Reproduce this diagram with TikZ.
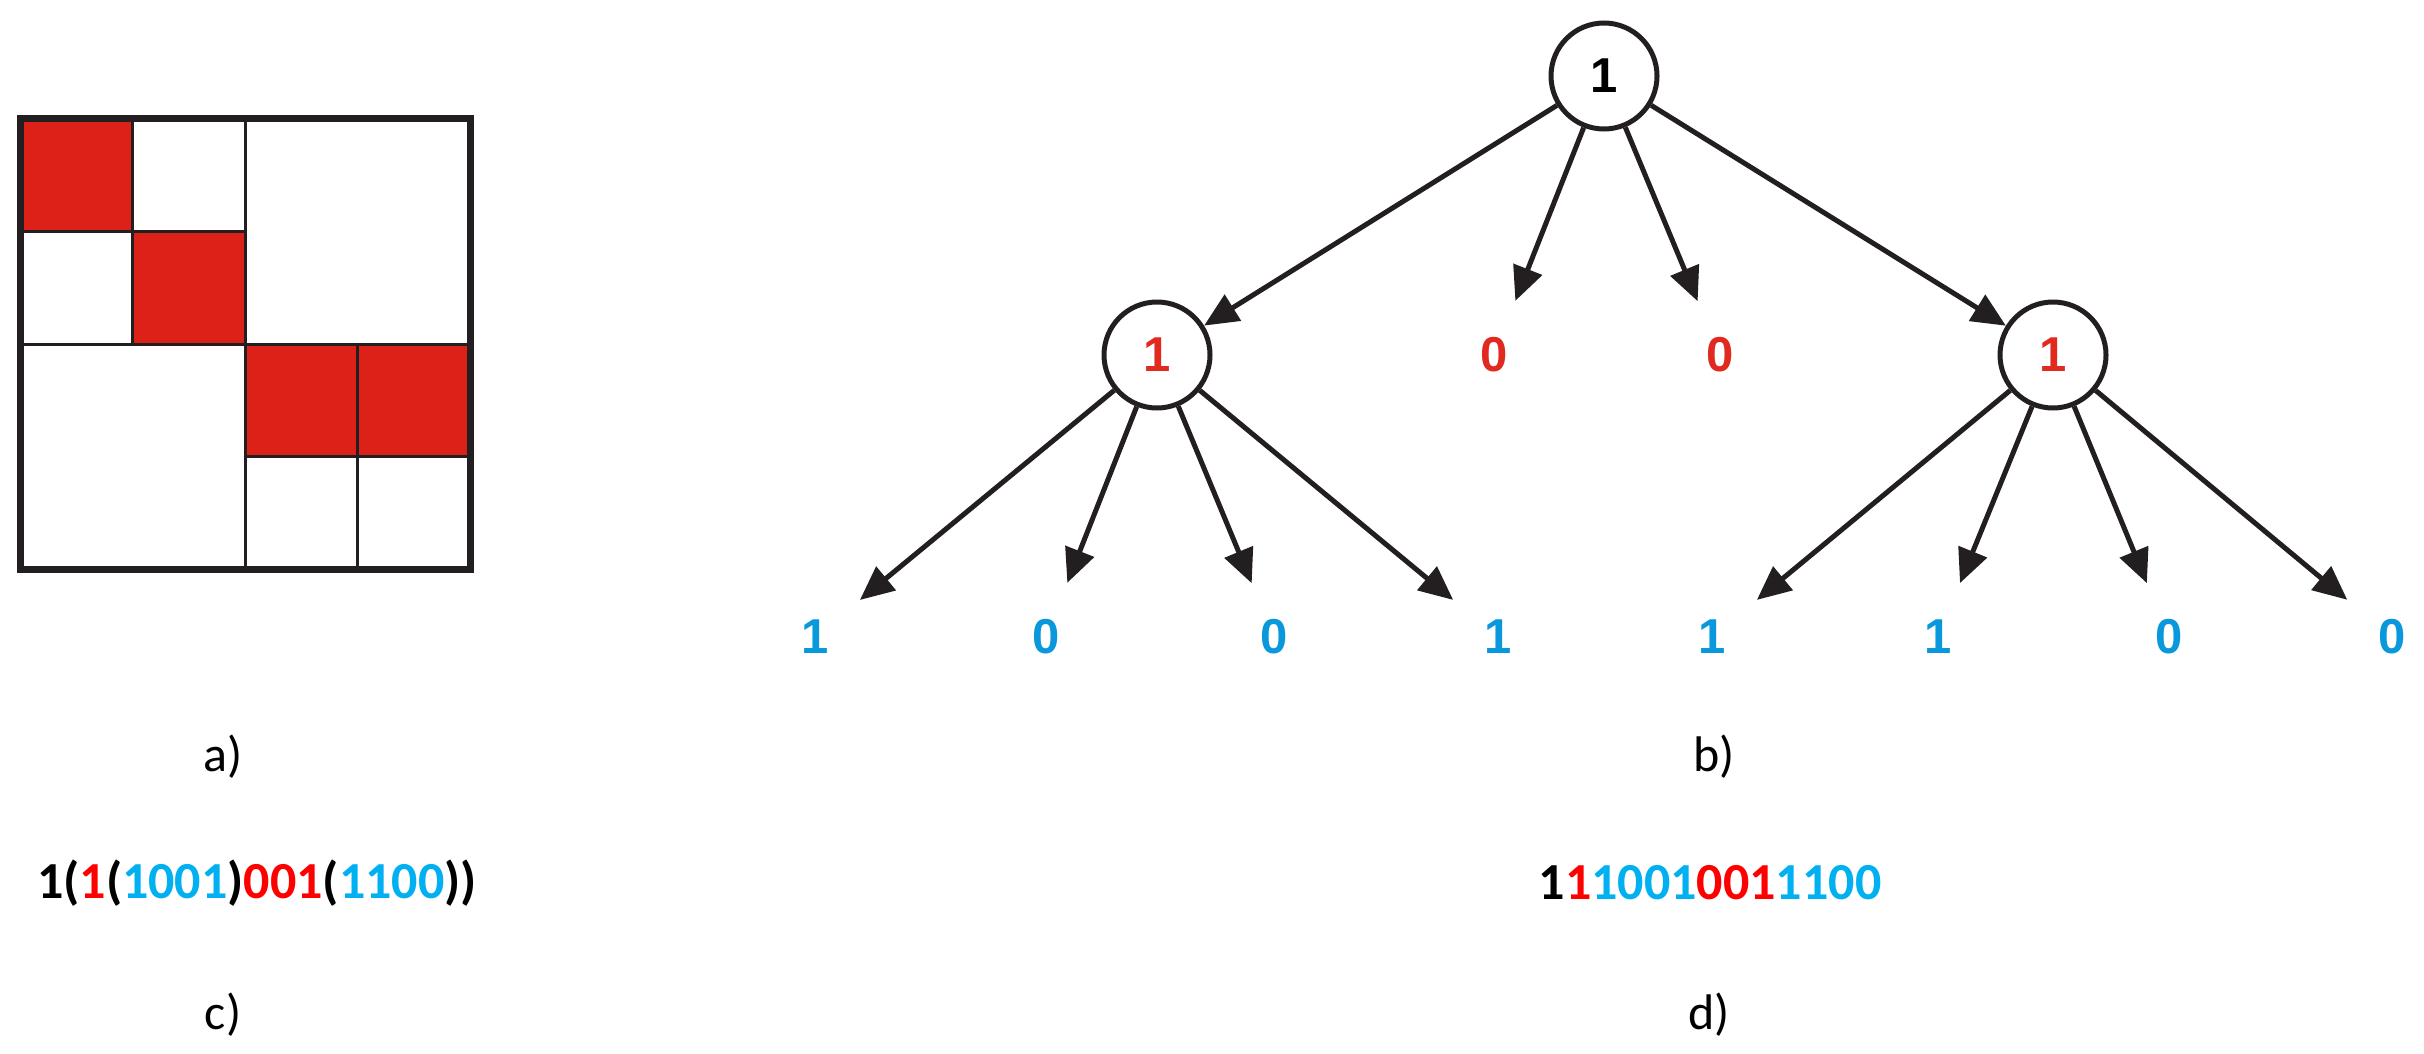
\documentclass[tikz,border=0pt]{standalone}
\usepackage{fontspec}
\setmainfont{Carlito}
\newfontfamily\arialf{Liberation Sans}
\usetikzlibrary{arrows.meta}
\definecolor{mred}{HTML}{DC2118}
\definecolor{tred}{HTML}{E02A20}
\definecolor{tblue}{HTML}{0A98DC}
\definecolor{sred}{HTML}{FF0000}
\definecolor{sblue}{HTML}{00B0F0}
\definecolor{ink}{HTML}{231F20}
\tikzset{
  inode/.style={circle,draw=ink,line width=5pt,minimum size=106pt,inner sep=0pt,font=\arialf\bfseries\fontsize{49}{50}\selectfont},
  lnode/.style={circle,minimum size=116pt,inner sep=0pt,font=\arialf\bfseries\fontsize{49}{50}\selectfont},
  arr/.style={draw=ink,line width=5pt,-{Triangle[length=34pt,width=30pt]}},
  captxt/.style={font=\fontsize{50}{55}\selectfont},
  codetxt/.style={font=\bfseries\fontsize{52}{58}\selectfont}
}
\begin{document}
\begin{tikzpicture}[x=1pt,y=-1pt]
\useasboundingbox (0,0) rectangle (2424,1054);
% matrix
\fill[mred] (20,119) rectangle (132,231);
\fill[mred] (132,231) rectangle (245,344);
\fill[mred] (245,344) rectangle (470,456);
\draw[ink,line width=3pt] (132,119) -- (132,344) (20,231) -- (245,231)
  (245,119) -- (245,569) (20,344) -- (470,344) (245,456) -- (470,456) (357,344) -- (357,569);
\draw[ink,line width=7pt] (20,119) rectangle (470,569);
% tree
\node[inode] (r) at (1604,76) {1};
\node[inode,text=tred] (m1) at (1157,355) {1};
\node[inode,text=tred] (m2) at (2053,355) {1};
\node[lnode,text=tred] (z1) at (1494,355) {0};
\node[lnode,text=tred] (z2) at (1720,355) {0};
\foreach \n/\x/\t in {l1/815/1,l2/1046/0,l3/1274/0,l4/1498/1,l5/1712/1,l6/1938/1,l7/2169/0,l8/2392/0}
  \node[lnode,text=tblue] (\n) at (\x,637) {\t};
\draw[arr] (r) -- (m1);
\draw[arr] (r) -- (z1);
\draw[arr] (r) -- (z2);
\draw[arr] (r) -- (m2);
\foreach \n in {l1,l2,l3,l4} \draw[arr] (m1) -- (\n);
\foreach \n in {l5,l6,l7,l8} \draw[arr] (m2) -- (\n);
% captions
\node[captxt] (ca) at (223,757) {a)};
\node[captxt] (cb) at (1714,757) {b)};
\node[captxt] (cc) at (223,1015) {c)};
\node[captxt] (cd) at (1709,1015) {d)};
\node[codetxt] (sc) at (257,883) {1(\textcolor{sred}{1}(\textcolor{sblue}{1001})\textcolor{sred}{001}(\textcolor{sblue}{1100}))};
\node[codetxt] (sd) at (1710,883) {1\textcolor{sred}{1}\textcolor{sblue}{1001}\textcolor{sred}{001}\textcolor{sblue}{1100}};
\end{tikzpicture}
\end{document}
